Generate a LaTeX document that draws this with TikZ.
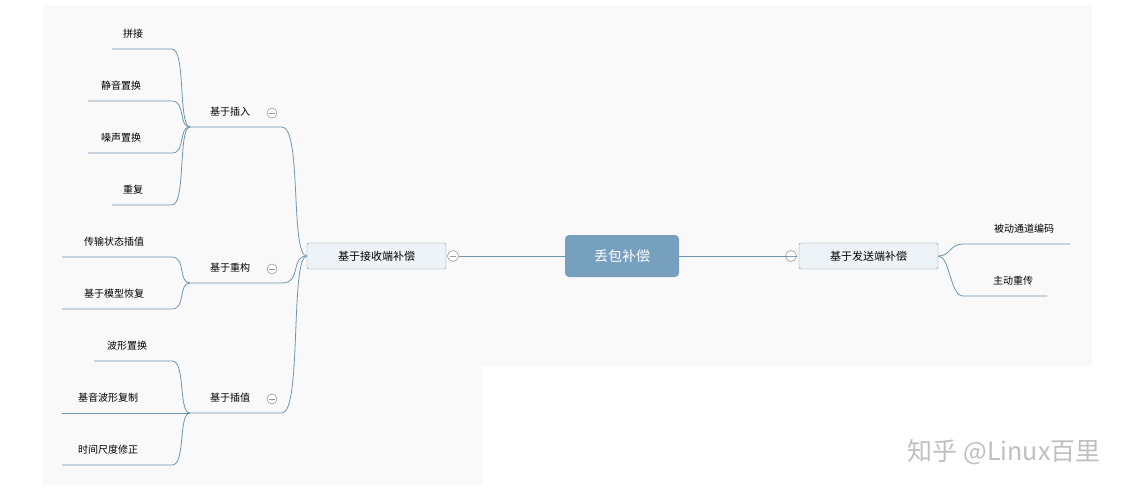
\documentclass[tikz,border=0pt]{standalone}
\usepackage{fontspec}
\setmainfont{Noto Sans CJK SC}
\begin{document}
\begin{tikzpicture}[x=1pt,y=-1pt,
  ln/.style={draw=lnc,line width=0.8pt},
  leaf/.style={font=\fontsize{10}{11}\selectfont,inner sep=1pt},
  sub/.style={draw=lnc,fill=subfill,rounded corners=2pt,minimum width=139pt,minimum height=26pt,font=\fontsize{11}{13}\selectfont},
  coll/.style={circle,draw=gray!80,fill=white,minimum size=11pt,inner sep=0pt,line width=0.6pt}]
\definecolor{lnc}{HTML}{6F95B0}
\definecolor{subfill}{HTML}{EEF3F8}
\definecolor{rootc}{HTML}{76A0BE}
\definecolor{bgc}{HTML}{F9F9F9}
\useasboundingbox (0,0) rectangle (1131,496);
\fill[white] (0,0) rectangle (1131,496);
\fill[bgc] (43,5) -- (1092,5) -- (1092,366) -- (482,366) -- (482,485) -- (43,485) -- cycle;
% root
\node[fill=rootc,rounded corners=4pt,minimum width=114pt,minimum height=42pt,text=white,font=\fontsize{14}{16}\selectfont] (root) at (622,256) {丢包补偿};
\node[sub] (recv) at (376.5,256) {基于接收端补偿};
\node[sub] (send) at (868.5,256) {基于发送端补偿};
\node[coll] (cr) at (453,256) {};
\node[coll] (cs) at (791,256) {};
\draw[ln] (root.west) -- (cr.east);
\draw[ln] (root.east) -- (cs.east);
\foreach \c in {cr,cs} \draw[gray!80,line width=0.6pt] ([xshift=-3pt]\c.center) -- ([xshift=3pt]\c.center);
% right children
\node[leaf] (t1) at (1024,229) {被动通道编码};
\node[leaf] (t2) at (1013,281) {主动重传};
\coordinate (u1a) at (963,244); \coordinate (u1b) at (1070,244);
\coordinate (u2a) at (963,296); \coordinate (u2b) at (1047,296);
\draw[ln] (send.east) .. controls (950,256) and (950,244) .. (u1a) -- (u1b);
\draw[ln] (send.east) .. controls (950,256) and (950,296) .. (u2a) -- (u2b);
% level 2 left
\foreach \n/\t/\y in {ins/基于插入/112, rec/基于重构/268, itp/基于插值/398}{
  \node[leaf] (\n) at (230,\y) {\t};
  \node[coll,minimum size=10pt] (\n c) at (272,\y+1) {};
  \draw[gray!80,line width=0.6pt] ([xshift=-3pt]\n c.center) -- ([xshift=3pt]\n c.center);
  \coordinate (\n a) at (190,\y+15);
  \coordinate (\n b) at (282,\y+15);
  \draw[ln] (\n a) -- (\n b) .. controls (302,\y+15) and (290,256) .. (recv.west);
}
% leaves
\foreach \n/\t/\x/\y/\l/\p/\py in {a/拼接/133/34/112/ins/127, b/静音置换/121/86/88/ins/127, c/噪声置换/121/138/88/ins/127, d/重复/133/190/112/ins/127,
  e/传输状态插值/114/242/62/rec/283, f/基于模型恢复/114/294/62/rec/283,
  g/波形置换/127/346/94/itp/413, h/基音波形复制/108/398/62/itp/413, i/时间尺度修正/108/450/62/itp/413}{
  \node[leaf] (\n) at (\x,\y) {\t};
  \coordinate (\n l) at (\l,\y+15);
  \coordinate (\n r) at (172,\y+15);
  \draw[ln] (\n l) -- (\n r) .. controls (186,\y+15) and (178,\py) .. (\p a);
}
% watermark
\node[text=gray!50,font=\fontsize{25}{28}\selectfont,anchor=east] (wm) at (1104,452) {知乎 @Linux百里};
\end{tikzpicture}
\end{document}
